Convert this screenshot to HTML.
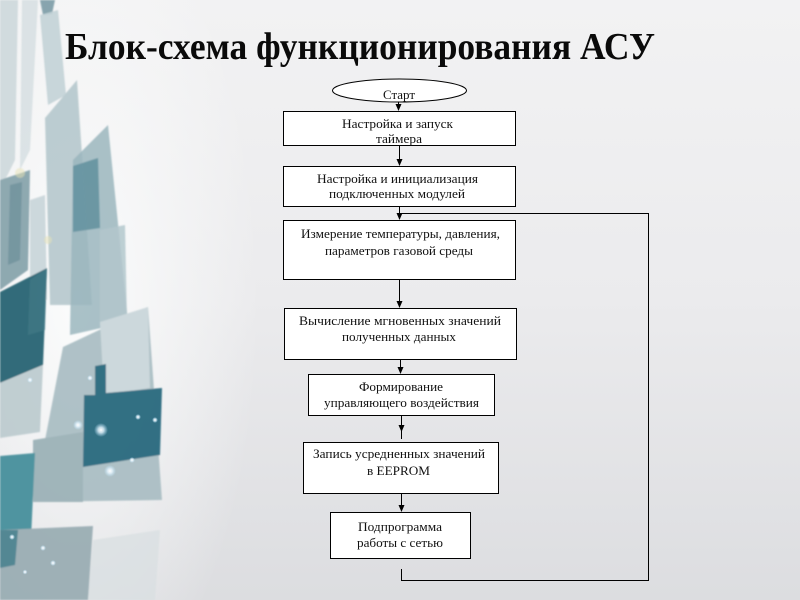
<!DOCTYPE html>
<html><head><meta charset="utf-8"><style>
html,body{margin:0;padding:0;width:800px;height:600px;overflow:hidden;}
body{background:linear-gradient(to bottom,#f2f2f3 0%,#ebebed 50%,#dcdde0 100%);}
svg{display:block;}
text{font-family:"Liberation Serif","Noto Serif CJK SC",serif;}
</style></head><body>
<svg width="800" height="600" viewBox="0 0 800 600" xmlns="http://www.w3.org/2000/svg">
<defs>
<linearGradient id="bg" x1="0" y1="0" x2="0" y2="1">
<stop offset="0" stop-color="#f2f2f3"/><stop offset="0.5" stop-color="#ebebed"/><stop offset="1" stop-color="#dcdde0"/>
</linearGradient>
<radialGradient id="glow" cx="0.5" cy="0.5" r="0.5">
<stop offset="0" stop-color="#ffffff" stop-opacity="1"/><stop offset="0.4" stop-color="#e8f6ff" stop-opacity="0.8"/><stop offset="1" stop-color="#bfe6ff" stop-opacity="0"/>
</radialGradient>
<radialGradient id="wglow" cx="0.3" cy="0.5" r="0.7">
<stop offset="0" stop-color="#fbfcfc" stop-opacity="1"/><stop offset="1" stop-color="#fbfcfc" stop-opacity="0"/>
</radialGradient>
<filter id="soft" x="-5%" y="-5%" width="110%" height="110%"><feGaussianBlur stdDeviation="0.7"/></filter>
</defs>
<rect x="0" y="0" width="800" height="600" fill="url(#bg)"/>
<rect x="0" y="0" width="260" height="600" fill="url(#wglow)"/>

<!-- left decoration -->
<g filter="url(#soft)" opacity="0.92">
<polygon points="0,0 18,0 15,160 0,190" fill="#c4d2d6" opacity="0.8"/>
<polygon points="22,0 38,0 30,150 20,170" fill="#d3dde0" opacity="0.85"/>
<polygon points="40,0 55,0 52,14 43,15" fill="#7e9ea8"/>
<polygon points="40,15 58,10 66,95 48,105" fill="#bfcfd4" opacity="0.9"/>
<polygon points="0,180 30,170 28,270 0,290" fill="#86a3ab"/>
<polygon points="10,185 22,182 20,260 8,265" fill="#5b828e" opacity="0.6"/>
<polygon points="45,118 77,80 92,305 50,305" fill="#b7c9ce"/>
<polygon points="30,200 45,195 47,300 30,300" fill="#c9d6da"/>
<polygon points="73,160 108,125 128,322 70,335" fill="#93b0b8" opacity="0.85"/>
<polygon points="73,166 98,158 100,228 73,232" fill="#5a8b99" opacity="0.9"/>
<polygon points="100,230 125,225 127,320 100,325" fill="#adc3c9" opacity="0.85"/>
<polygon points="0,292 47,268 43,365 0,383" fill="#24606f"/>
<polygon points="30,280 47,268 45,330 28,335" fill="#356f7e" opacity="0.7"/>
<polygon points="0,383 43,365 40,432 0,438" fill="#bccbcf"/>
<polygon points="63,347 148,307 162,500 33,502" fill="#a9bdc3"/>
<polygon points="100,322 148,307 150,388 104,395" fill="#c9d6da"/>
<polygon points="95,366 106,364 106,393 162,388 160,455 83,467 84,395 95,395" fill="#21657a"/>
<polygon points="33,440 83,432 83,502 33,502" fill="#9ab0b6"/>
<polygon points="0,456 35,453 30,560 0,566" fill="#428d9a"/>
<polygon points="0,530 93,526 88,600 0,600" fill="#98acb2"/>
<polygon points="0,530 18,530 15,565 0,568" fill="#467f8c"/>
<polygon points="93,540 160,530 155,600 88,600" fill="#d8dfe1" opacity="0.8"/>
<circle cx="20" cy="173" r="5" fill="#e8e2b0" opacity="0.5"/>
<circle cx="48" cy="240" r="4" fill="#e8e2b0" opacity="0.5"/>
</g>
<g>
<circle cx="78" cy="425" r="5" fill="url(#glow)"/>
<circle cx="101" cy="430" r="7" fill="url(#glow)"/>
<circle cx="110" cy="471" r="6" fill="url(#glow)"/>
<circle cx="90" cy="378" r="3" fill="url(#glow)"/>
<circle cx="30" cy="380" r="3" fill="url(#glow)"/>
<circle cx="138" cy="417" r="3" fill="url(#glow)"/>
<circle cx="155" cy="420" r="3" fill="url(#glow)"/>
<circle cx="132" cy="460" r="3" fill="url(#glow)"/>
<circle cx="53" cy="563" r="3" fill="url(#glow)"/>
<circle cx="43" cy="548" r="3" fill="url(#glow)"/>
<circle cx="25" cy="572" r="2.5" fill="url(#glow)"/>
<circle cx="12" cy="537" r="3" fill="url(#glow)"/>
</g>

<!-- title -->
<text x="65" y="59" font-size="38" font-weight="bold" fill="#0a0a0a" textLength="590" lengthAdjust="spacingAndGlyphs">Блок-схема функционирования АСУ</text>

<!-- flowchart -->
<g fill="#ffffff" stroke="#000" stroke-width="1">
<ellipse cx="399.5" cy="90.5" rx="67" ry="11.5"/>
<rect x="283.5" y="111.5" width="232" height="34"/>
<rect x="283.5" y="166.5" width="232" height="40"/>
<rect x="283.5" y="220.5" width="232" height="59"/>
<rect x="284.5" y="308.5" width="232" height="51"/>
<rect x="308.5" y="374.5" width="186" height="41"/>
<rect x="303.5" y="442.5" width="195" height="51"/>
<rect x="330.5" y="512.5" width="140" height="46"/>
</g>
<g stroke="#000" stroke-width="1" fill="none">
<line x1="398.5" y1="102" x2="398.5" y2="108"/>
<line x1="399.5" y1="145" x2="399.5" y2="163"/>
<line x1="399.5" y1="206" x2="399.5" y2="217"/>
<polyline points="399.5,213.5 648.5,213.5 648.5,580.5 401.5,580.5 401.5,569"/>
<line x1="399.5" y1="279" x2="399.5" y2="305"/>
<line x1="400.5" y1="359" x2="400.5" y2="371"/>
<line x1="401.5" y1="416" x2="401.5" y2="439"/>
<line x1="401.5" y1="493" x2="401.5" y2="509"/>
</g>
<g fill="#000">
<polygon points="395.5,104 401.5,104 398.5,111"/>
<polygon points="396.5,159 402.5,159 399.5,166"/>
<polygon points="396.5,213 402.5,213 399.5,220"/>
<polygon points="396.5,301 402.5,301 399.5,308"/>
<polygon points="397.5,367 403.5,367 400.5,374"/>
<polygon points="398.5,425 404.5,425 401.5,432"/>
<polygon points="398.5,505 404.5,505 401.5,512"/>
</g>

<g font-size="12.5" fill="#111">
<text x="383" y="99" textLength="32" lengthAdjust="spacingAndGlyphs">Старт</text>
<text x="342" y="128" textLength="111" lengthAdjust="spacingAndGlyphs">Настройка и запуск</text>
<text x="376" y="143" textLength="46" lengthAdjust="spacingAndGlyphs">таймера</text>
<text x="317" y="183" textLength="161" lengthAdjust="spacingAndGlyphs">Настройка и инициализация</text>
<text x="329" y="198" textLength="136" lengthAdjust="spacingAndGlyphs">подключенных модулей</text>
<text x="301" y="238" textLength="199" lengthAdjust="spacingAndGlyphs">Измерение температуры, давления,</text>
<text x="325" y="255" textLength="148" lengthAdjust="spacingAndGlyphs">параметров газовой среды</text>
<text x="299" y="325" textLength="202" lengthAdjust="spacingAndGlyphs">Вычисление мгновенных  значений</text>
<text x="342" y="341" textLength="114" lengthAdjust="spacingAndGlyphs">полученных  данных</text>
<text x="359" y="391" textLength="84" lengthAdjust="spacingAndGlyphs">Формирование</text>
<text x="324" y="407" textLength="155" lengthAdjust="spacingAndGlyphs">управляющего воздействия</text>
<text x="313" y="458" textLength="172" lengthAdjust="spacingAndGlyphs">Запись усредненных значений</text>
<text x="367" y="475" textLength="63" lengthAdjust="spacingAndGlyphs">в EEPROM</text>
<text x="358" y="531" textLength="84" lengthAdjust="spacingAndGlyphs">Подпрограмма</text>
<text x="357" y="547" textLength="86" lengthAdjust="spacingAndGlyphs">работы с сетью</text>
</g>
</svg>
</body></html>
